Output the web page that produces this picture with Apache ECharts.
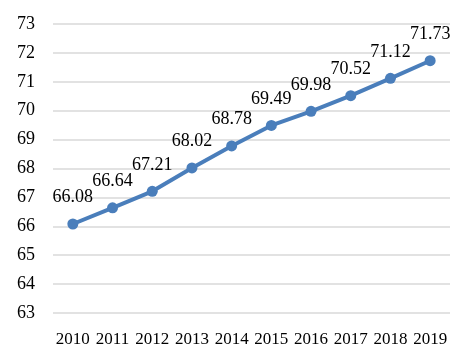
<!DOCTYPE html>
<html><head><meta charset="utf-8">
<script src="https://cdn.jsdelivr.net/npm/echarts@6/dist/echarts.min.js"></script>
<style>html,body{margin:0;padding:0;background:#fff}#c{width:474px;height:364px}</style>
</head><body><div id="c"></div>
<script>
const years = ['2010','2011','2012','2013','2014','2015','2016','2017','2018','2019'];
const values = [66.08, 66.64, 67.21, 68.02, 68.78, 69.49, 69.98, 70.52, 71.12, 71.73];
const yMin = 63, yMax = 73, yStep = 1;
const font = '"Liberation Serif", "DejaVu Serif", serif';
const chart = echarts.init(document.getElementById('c'), null, {renderer:'canvas'});
chart.setOption({
  animation: false,
  grid: {left: 53, right: 24, top: 24, bottom: 51, containLabel: false},
  xAxis: {
    type: 'category', data: years, boundaryGap: true,
    axisLine: {show: false}, axisTick: {show: false},
    axisLabel: {interval: 0, color: '#000', fontFamily: font, fontSize: 17, margin: 18}
  },
  yAxis: {
    type: 'value', min: yMin, max: yMax, interval: yStep,
    axisLine: {show: false}, axisTick: {show: false},
    axisLabel: {color: '#000', fontFamily: font, fontSize: 18, margin: 18},
    splitLine: {lineStyle: {color: '#d9d9d9', width: 1.5}}
  },
  series: [{
    type: 'line', data: values,
    symbol: 'circle', symbolSize: 11,
    lineStyle: {color: '#4a7ebb', width: 4},
    itemStyle: {color: '#4a7ebb'},
    label: {show: true, position: 'top', distance: 12, color: '#000', fontFamily: font, fontSize: 18,
      formatter: p => p.value.toFixed(2)}
  }]
});
</script></body></html>
